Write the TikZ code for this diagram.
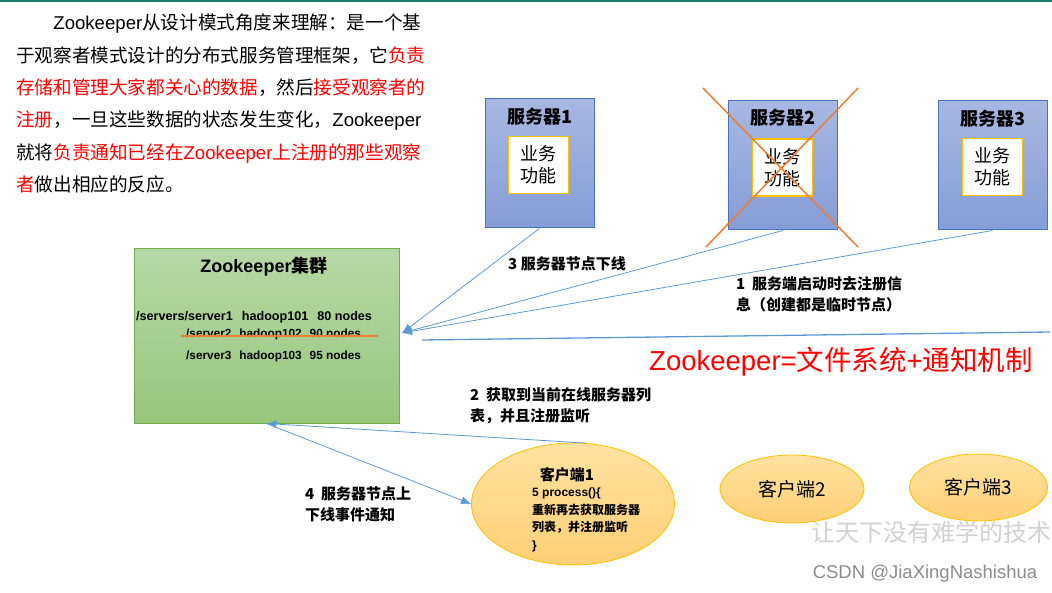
\documentclass[tikz,border=0pt]{standalone}
\usepackage{fontspec}
\setmainfont{Noto Sans CJK SC}
\newfontfamily\lat{Liberation Sans}
\usepackage{xcolor}
\usetikzlibrary{positioning,arrows.meta,shapes.geometric}

\definecolor{topline}{RGB}{31,122,110}
\definecolor{srvtop}{RGB}{168,183,226}
\definecolor{srvbot}{RGB}{133,157,214}
\definecolor{srvedge}{RGB}{68,114,196}
\definecolor{taskedge}{RGB}{255,192,0}
\definecolor{zktop}{RGB}{183,216,166}
\definecolor{zkbot}{RGB}{152,198,124}
\definecolor{zkedge}{RGB}{112,173,71}
\definecolor{clitop}{RGB}{255,226,160}
\definecolor{clibot}{RGB}{255,207,118}
\definecolor{linkblue}{RGB}{91,155,213}
\definecolor{cross}{RGB}{237,125,49}
\definecolor{hot}{RGB}{255,0,0}

\newcommand{\fsz}[2]{\fontsize{#1}{#2}\selectfont}
\newcommand{\zkname}{{\lat Zookeeper}}

\begin{document}
\begin{tikzpicture}[x=1pt, y=-1pt, >={Latex[length=10pt,width=8pt]},
    every node/.style={align=center, inner sep=0pt},
    server/.style={draw=srvedge, line width=1pt, top color=srvtop, bottom color=srvbot, minimum width=109pt, minimum height=129pt},
    task/.style={draw=taskedge, fill=white, line width=1.5pt, minimum width=60pt, minimum height=57pt, font=\fsz{18}{22}},
    client/.style={ellipse, draw=taskedge, line width=0.8pt, top color=clitop, bottom color=clibot},
    wire/.style={draw=linkblue, line width=0.8pt},
    note/.style={font=\bfseries\fsz{15}{21.5}, align=left}]

    \useasboundingbox (0,0) rectangle (1052,593);
    \draw[topline, line width=2pt] (0,1) -- (1052,1);

    % intro text
    \node[anchor=north west, align=left, font=\fsz{18.6}{32.3}] (intro) at (16,14) {%
        \hspace*{2em}\zkname 从设计模式角度来理解：是一个基\\
        于观察者模式设计的分布式服务管理框架，它\textcolor{hot}{负责}\\
        \textcolor{hot}{存储和管理大家都关心的数据}，然后\textcolor{hot}{接受观察者的}\\
        \textcolor{hot}{注册}，一旦这些数据的状态发生变化，\zkname\\
        就将\textcolor{hot}{负责通知已经在\zkname 上注册的那些观察}\\
        \textcolor{hot}{者}做出相应的反应。};

    % servers
    \node[server] (srv1) at (539.5,163.5) {};
    \node[font=\bfseries\fsz{18}{22}] (srv1t) at (539.5,117) {服务器1};
    \node[task] (task1) at (538.5,165) {业务\\功能};
    \node[server] (srv2) at (783,165.5) {};
    \node[font=\bfseries\fsz{18}{22}] (srv2t) at (783,118) {服务器2};
    \node[task] (task2) at (782.5,167.5) {业务\\功能};
    \node[server] (srv3) at (992.5,165.5) {};
    \node[font=\bfseries\fsz{18}{22}] (srv3t) at (992.5,119) {服务器3};
    \node[task] (task3) at (992.5,167) {业务\\功能};
    \draw[cross, line width=1.5pt] (703,88) -- (858,247);
    \draw[cross, line width=1.5pt] (858,88) -- (706,247);

    % zookeeper cluster
    \node[draw=zkedge, line width=1pt, top color=zktop, bottom color=zkbot, minimum width=265pt, minimum height=174pt] (zk) at (266.5,336) {};
    \node[font=\bfseries\fsz{18}{22}] (zkt) at (264,267) {\zkname 集群};
    \node[anchor=west, font=\lat\bfseries\fsz{12.6}{14}] (row1) at (136,317) {/servers/server1\hspace{9pt}hadoop101\hspace{9pt}80 nodes};
    \node[anchor=west, font=\lat\bfseries\fsz{11.8}{14}] (row2) at (186,334) {/server2\hspace{8pt}hadoop102\hspace{8pt}90 nodes};
    \node[anchor=west, font=\lat\bfseries\fsz{11.8}{14}] (row3) at (186,356) {/server3\hspace{8pt}hadoop103\hspace{8pt}95 nodes};
    \draw[cross, line width=1.2pt] (181,336) -- (378,336);

    % connectors to the cluster
    \coordinate (hub) at (402,333);
    \coordinate (busL) at (422,340);
    \coordinate (busR) at (1050,332);
    \draw[wire,->] (srv1.south) -- (hub);
    \draw[wire,->] (srv2.south) -- (hub);
    \draw[wire,->] (srv3.south) -- (hub);
    \draw[wire, line width=1.3pt] (busR) -- (busL);

    \node[note, anchor=west] (lbl3) at (508,264) {3 服务器节点下线};
    \node[note, anchor=north west] (lbl1) at (736,276) {1\ \ 服务端启动时去注册信\\息（创建都是临时节点）};
    \node[font=\fsz{27.5}{30}, text=hot] (motto) at (841,362) {{\lat Zookeeper=}文件系统{\lat +}通知机制};
    \node[note, anchor=north west] (lbl2) at (470,387) {2\ \ 获取到当前在线服务器列\\表，并且注册监听};
    \node[note, anchor=north west] (lbl4) at (305,486) {4\ \ 服务器节点上\\下线事件通知};

    % clients
    \node[client, minimum width=203pt, minimum height=122pt] (cli1) at (573,504) {};
    \node[font=\bfseries\fsz{15}{18}] (cli1t) at (567,475) {客户端1};
    \node[anchor=north west, align=left, font=\bfseries\fsz{12}{17.5}] (cli1b) at (532,488) {{\lat 5 process()\{}\\重新再去获取服务器\\列表，并注册监听\\{\lat\}}};
    \node[client, minimum width=144pt, minimum height=68pt, font=\fsz{19}{22}] (cli2) at (792,489) {客户端2};
    \node[client, minimum width=138pt, minimum height=67pt, font=\fsz{19}{22}] (cli3) at (978.5,487.5) {客户端3};

    \draw[wire,->] (cli1.78) -- (zk.south);
    \draw[wire,->] (zk.south) -- (cli1.west);

    % watermarks
    \node[text=black!18, font=\fsz{24}{26}] (mark) at (931,532) {让天下没有难学的技术};
    \node[text=black!45, font=\lat\fsz{18.5}{20}] (csdn) at (925,574) {CSDN @JiaXingNashishua};
\end{tikzpicture}
\end{document}
